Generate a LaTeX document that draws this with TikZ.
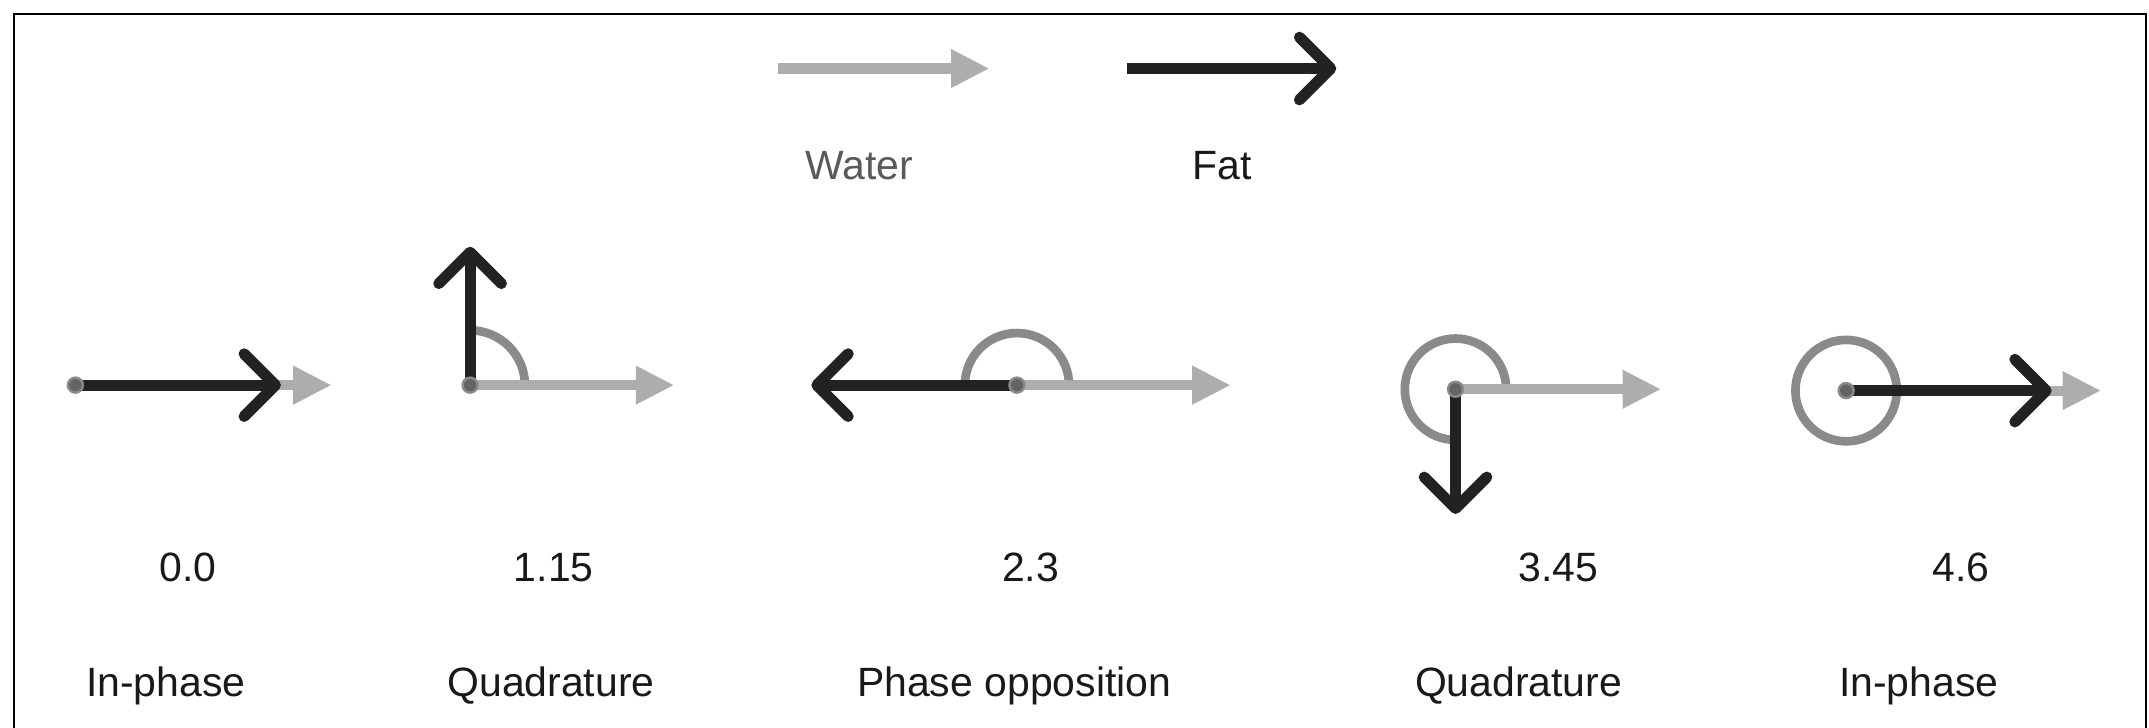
\documentclass[tikz,border=0pt]{standalone}
\usepackage{fontspec}
\setmainfont{Liberation Sans}
\usetikzlibrary{arrows.meta}
\definecolor{wat}{HTML}{ADADAD}
\definecolor{fat}{HTML}{222222}
\definecolor{arcg}{HTML}{8A8A8A}
\begin{document}
\begin{tikzpicture}[x=0.02cm,y=-0.02cm,
  water/.style={wat,line width=4.2pt,-{Triangle[length=16pt,width=15pt]}},
  fatv/.style={fat,line width=4.6pt,-{Straight Barb[length=13pt,width=26pt,line width=4.6pt,round]}},
  phase/.style={arcg,line width=3.6pt},
  orig/.style={circle,fill=fat!70,draw=arcg,line width=1pt,inner sep=2.2pt},
  lab/.style={font=\fontsize{17}{20}\selectfont,text=black!90,anchor=base}]
\useasboundingbox (0,0) rectangle (1568,531);
\draw[line width=1pt] (10,540) -- (10,10) -- (1566,10) -- (1566,540);
% legend
\coordinate (lw1) at (568,50); \coordinate (lw2) at (722,50);
\coordinate (lf1) at (822,50); \coordinate (lf2) at (975,50);
\draw[water] (lw1) -- (lw2);
\draw[fatv] (lf1) -- (lf2);
\node[lab,text=black!65] (tw) at (627,131) {Water};
\node[lab] (tf) at (892,131) {Fat};
% 1
\coordinate (o1) at (55,281);
\draw[water] (o1) -- (242,281);
\draw[fatv] (o1) -- (205,281);
\node[orig] at (o1) {};
% 2
\coordinate (o2) at (343,281);
\draw[phase] (383,281) arc[start angle=0,end angle=-90,radius=40];
\draw[water] (o2) -- (492,281);
\draw[fatv] (o2) -- (343,180);
\node[orig] at (o2) {};
% 3
\coordinate (o3) at (742,281);
\draw[phase] (780,281) arc[start angle=0,end angle=-180,radius=38];
\draw[water] (o3) -- (898,281);
\draw[fatv] (o3) -- (592,281);
\node[orig] at (o3) {};
% 4
\coordinate (o4) at (1062,284);
\draw[phase] (1099,284) arc[start angle=0,end angle=-270,radius=37];
\draw[water] (o4) -- (1212,284);
\draw[fatv] (o4) -- (1062,375);
\node[orig] at (o4) {};
% 5
\coordinate (o5) at (1347,285);
\draw[phase] (o5) circle[radius=37];
\draw[water] (o5) -- (1533,285);
\draw[fatv] (o5) -- (1497,285);
\node[orig] at (o5) {};
% labels
\node[lab] (n1) at (137,424) {0.0};
\node[lab] (n2) at (404,424) {1.15};
\node[lab] (n3) at (752,424) {2.3};
\node[lab] (n4) at (1137,424) {3.45};
\node[lab] (n5) at (1431,424) {4.6};
\node[lab] (d1) at (121,508) {In-phase};
\node[lab] (d2) at (402,508) {Quadrature};
\node[lab] (d3) at (740,508) {Phase opposition};
\node[lab] (d4) at (1108,508) {Quadrature};
\node[lab] (d5) at (1400,508) {In-phase};
\end{tikzpicture}
\end{document}
